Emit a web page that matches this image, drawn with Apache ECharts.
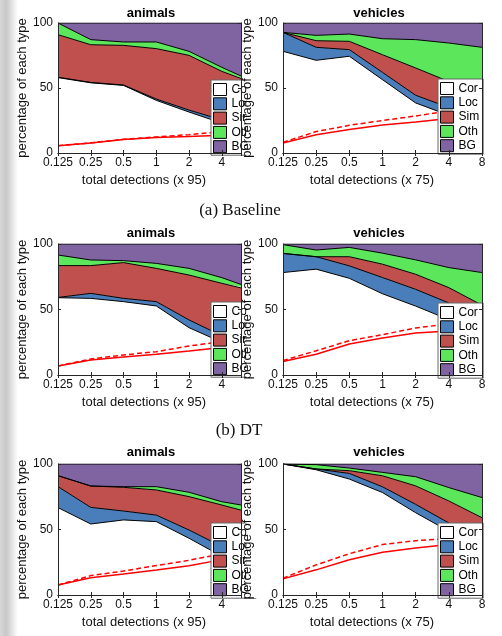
<!DOCTYPE html>
<html><head><meta charset="utf-8">
<script src="https://cdn.jsdelivr.net/npm/echarts@6/dist/echarts.min.js"></script>
<style>html,body{margin:0;padding:0;background:#fff;}#c{width:502px;height:636px;}</style>
</head><body><div id="c"></div>
<script>
// ---------- data ----------
const detections = [0.125, 0.25, 0.5, 1, 2, 4, 8];
const types = ['Cor', 'Loc', 'Sim', 'Oth', 'BG'];
const panelTitles = ['animals', 'vehicles'];
const xAxisNames = ['total detections (x 95)', 'total detections (x 75)'];
const yAxisName = 'percentage of each type';
const captions = ['(a) Baseline', '(b) DT'];

// (a) Baseline - animals
const baseAnimalsCor = [58, 54, 52, 40.5, 31.5, 23, 15];
const baseAnimalsLoc = [0.3, 0.3, 0.3, 1, 1.5, 2.5, 3];
const baseAnimalsSim = [32.7, 29, 30.5, 38.8, 42.1, 37.3, 35.5];
const baseAnimalsOth = [9, 3.9, 2.6, 5.1, 3.1, 3.1, 1];
const baseAnimalsBG  = [0, 12.8, 14.6, 14.6, 21.8, 34.1, 45.5];
const baseAnimalsRecall     = [5.6, 7.7, 10.3, 12, 12.6, 13.6, 14.5];
const baseAnimalsRecallDash = [5.6, 7.8, 10.5, 12.4, 14.1, 16.5, 18.5];

// (a) Baseline - vehicles
const baseVehiclesCor = [78.2, 71.3, 74.4, 56.4, 38.5, 29, 19.2];
const baseVehiclesLoc = [14.6, 10, 5.1, 5.6, 5.9, 6, 8.8];
const baseVehiclesSim = [0, 5.1, 6.4, 13.6, 21, 20, 21.2];
const baseVehiclesOth = [0, 4.1, 5.6, 12.3, 21.8, 29.6, 32.1];
const baseVehiclesBG  = [7.2, 9.5, 8.5, 12.1, 12.8, 15.4, 18.7];
const baseVehiclesRecall     = [7.7, 14, 18, 21.5, 23.8, 26.5, 29.5];
const baseVehiclesRecallDash = [8.2, 16.5, 21.3, 25, 28.5, 32.5, 36.5];

// (b) DT - animals
const dtAnimalsCor = [59, 58.5, 56, 52.7, 36.1, 25, 18];
const dtAnimalsLoc = [0.2, 3.8, 2.5, 3.3, 5.9, 5, 6];
const dtAnimalsSim = [24.3, 21.2, 27.3, 25.4, 34.3, 40, 40];
const dtAnimalsOth = [8.1, 4.3, 1.5, 3.8, 5.1, 4.3, 1.5];
const dtAnimalsBG  = [8.4, 12.2, 12.7, 14.8, 18.6, 25.7, 34.5];
const dtAnimalsRecall     = [6.9, 11.5, 13.8, 15.8, 18.3, 21, 23];
const dtAnimalsRecallDash = [6.9, 12.2, 15.3, 17.8, 22.1, 25.5, 28];

// (b) DT - vehicles
const dtVehiclesCor = [78.2, 80.8, 73.8, 62, 52.6, 42.3, 25.6];
const dtVehiclesLoc = [14.6, 9.5, 9.5, 12.4, 12.8, 12.7, 9.9];
const dtVehiclesSim = [0, 0, 7, 10.2, 11.5, 11.7, 17.8];
const dtVehiclesOth = [6.7, 5.1, 7.1, 8.4, 11, 15.3, 24.9];
const dtVehiclesBG  = [0.5, 4.6, 2.6, 7, 12.1, 18, 21.8];
const dtVehiclesRecall     = [10.3, 15.9, 23.6, 28.2, 32, 33.5, 34.5];
const dtVehiclesRecallDash = [11, 18.5, 26.2, 30.8, 35.9, 39, 41];

// (c) - animals
const cAnimalsCor = [66.7, 54.2, 57.3, 56, 43.3, 29.5, 20];
const cAnimalsLoc = [16, 12.7, 6.8, 5, 6.3, 7.5, 7];
const cAnimalsSim = [8.4, 16.3, 18.1, 19.2, 25.5, 31.7, 35];
const cAnimalsOth = [0, 0, 0.5, 2.5, 3.3, 2.5, 5];
const cAnimalsBG  = [8.9, 16.8, 17.3, 17.3, 21.6, 28.8, 33];
const cAnimalsRecall     = [7.6, 13.2, 16, 19.1, 22.4, 27, 31];
const cAnimalsRecallDash = [7.6, 14.8, 18.3, 22.5, 26.5, 31.5, 36];

// (c) - vehicles
const cVehiclesCor = [100, 95.6, 88.5, 78.2, 62.8, 48.7, 30.8];
const cVehiclesLoc = [0, 0.6, 4.3, 4.4, 6.4, 6.3, 9.2];
const cVehiclesSim = [0, 0, 2.1, 8.4, 14.1, 16.8, 19];
const cVehiclesOth = [0, 3.3, 2, 2.6, 7, 10.2, 15.4];
const cVehiclesBG  = [0, 0.5, 3.1, 6.4, 9.7, 18, 25.6];
const cVehiclesRecall     = [12.3, 19.2, 26.9, 32.6, 35.9, 38.5, 40];
const cVehiclesRecallDash = [12.8, 23, 31.5, 38.5, 41.5, 43, 44];

// ---------- layout / style ----------
const panels = [
  [baseAnimalsCor, baseAnimalsLoc, baseAnimalsSim, baseAnimalsOth, baseAnimalsBG, baseAnimalsRecall, baseAnimalsRecallDash],
  [baseVehiclesCor, baseVehiclesLoc, baseVehiclesSim, baseVehiclesOth, baseVehiclesBG, baseVehiclesRecall, baseVehiclesRecallDash],
  [dtAnimalsCor, dtAnimalsLoc, dtAnimalsSim, dtAnimalsOth, dtAnimalsBG, dtAnimalsRecall, dtAnimalsRecallDash],
  [dtVehiclesCor, dtVehiclesLoc, dtVehiclesSim, dtVehiclesOth, dtVehiclesBG, dtVehiclesRecall, dtVehiclesRecallDash],
  [cAnimalsCor, cAnimalsLoc, cAnimalsSim, cAnimalsOth, cAnimalsBG, cAnimalsRecall, cAnimalsRecallDash],
  [cVehiclesCor, cVehiclesLoc, cVehiclesSim, cVehiclesOth, cVehiclesBG, cVehiclesRecall, cVehiclesRecallDash]
];
const fills = ['#ffffff', '#4a7ebb', '#c0504d', '#5ce65c', '#8064a2'];
const FONT = '"Liberation Sans", Arial, Helvetica, sans-serif';
const AX = '#262626';
const rowTop = [23, 244, 464];
const rowH = [130, 131, 131];
const colLeft = [58, 283];
const colW = [183, 199];
const colMax = [6, 8];
const titleX = [151, 379];
const titleY = [13, 233, 452];
const legendPos = [[[211, 80], [438, 79]], [[211, 302], [438, 303]], [[211, 523], [438, 523]]];
const xNamePad = [[0, 11, 0, 0], [0, 21, 0, 0]];

const fmt = v => String(Math.round(v * 1000) / 1000);

const grid = [], xAxis = [], yAxis = [], series = [], legend = [], graphic = [];

graphic.push({
  type: 'rect', silent: true, z: -10,
  shape: { x: 0, y: 0, width: 18, height: 636 },
  style: { fill: { type: 'linear', x: 0, y: 0, x2: 1, y2: 0,
    colorStops: [{ offset: 0, color: '#d6d6d6' }, { offset: 0.35, color: '#c8c8c8' }, { offset: 1, color: '#ffffff' }] } }
});

panels.forEach((p, i) => {
  const r = Math.floor(i / 2), c = i % 2;
  grid.push({ left: colLeft[c], top: rowTop[r], width: colW[c], height: rowH[r], show: false, containLabel: false, outerBoundsMode: 'none' });
  const xBase = {
    gridIndex: i, type: 'log', logBase: 2, min: 0.125, max: colMax[c],
    axisLine: { show: true, lineStyle: { color: AX, width: 1 } },
    axisTick: { show: true, inside: true, length: 3, lineStyle: { color: AX } },
    splitLine: { show: false }, minorTick: { show: false }, z: 10
  };
  xAxis.push(Object.assign({}, xBase, {
    position: 'bottom',
    axisLabel: { show: true, formatter: fmt, fontSize: 12, fontFamily: FONT, color: '#111', margin: 4, showMaxLabel: c === 1, showMinLabel: true },
    name: xAxisNames[c], nameLocation: 'middle', nameGap: 21,
    nameTextStyle: { fontSize: 13, fontFamily: FONT, color: '#111', padding: xNamePad[c] }
  }));
  xAxis.push(Object.assign({}, xBase, { position: 'top', axisLabel: { show: false } }));
  const yBase = {
    gridIndex: i, type: 'value', min: 0, max: 100, interval: 50,
    axisLine: { show: true, lineStyle: { color: AX, width: 1 } },
    axisTick: { show: true, inside: true, length: 3, lineStyle: { color: AX } },
    splitLine: { show: false }
  };
  yAxis.push(Object.assign({}, yBase, {
    position: 'left', z: c === 1 ? 30 : 10,
    axisLabel: { show: true, fontSize: 12, fontFamily: FONT, color: '#111', margin: 5 },
    name: yAxisName, nameLocation: 'middle', nameGap: 29,
    nameTextStyle: { fontSize: 13, fontFamily: FONT, color: '#111' }
  }));
  yAxis.push(Object.assign({}, yBase, { position: 'right', z: 10, axisLabel: { show: false } }));

  types.forEach((t, k) => {
    // value column first so that the stack is applied to the percentage (y) dimension
    series.push({
      name: t, type: 'line', stack: 'p' + i, xAxisIndex: 2 * i, yAxisIndex: 2 * i,
      dimensions: ['percent', 'detections'],
      encode: { x: 'detections', y: 'percent' },
      symbol: 'none', showSymbol: false, z: 2, silent: true,
      data: detections.map((d, j) => [p[k][j], d]),
      lineStyle: { color: '#000', width: 1 },
      itemStyle: { color: fills[k] },
      areaStyle: { color: fills[k], opacity: 1 }
    });
  });
  series.push({
    name: 'recall', type: 'line', xAxisIndex: 2 * i, yAxisIndex: 2 * i,
    symbol: 'none', z: 3, silent: true,
    data: detections.map((d, j) => [d, p[5][j]]),
    lineStyle: { color: '#ff0000', width: 1.5 }
  });
  series.push({
    name: 'recall (dashed)', type: 'line', xAxisIndex: 2 * i, yAxisIndex: 2 * i,
    symbol: 'none', z: 3, silent: true,
    data: detections.map((d, j) => [d, p[6][j]]),
    lineStyle: { color: '#ff0000', width: 1.5, type: [5, 3] }
  });

  legend.push({
    orient: 'vertical', left: legendPos[r][c][0], top: legendPos[r][c][1],
    itemWidth: 13, itemHeight: 12, itemGap: 1.3, padding: [3, 4, 2, 2],
    backgroundColor: '#fff', borderColor: '#666', borderWidth: 1, borderRadius: 0,
    selectedMode: false, z: 4,
    textStyle: { fontSize: 12, fontFamily: FONT, color: '#000', lineHeight: 12 },
    data: types.map((t, k) => ({ name: t, icon: 'rect', itemStyle: { color: fills[k], borderColor: '#000', borderWidth: 1 } }))
  });

  graphic.push({
    type: 'text', x: titleX[c], y: titleY[r], z: 50, silent: true,
    style: { text: panelTitles[c], font: 'bold 13px ' + FONT, fill: '#000',
      textAlign: 'center', align: 'center', textVerticalAlign: 'middle', verticalAlign: 'middle' }
  });
  if (c === 0) {
    // the right-hand figure overlaps the clipped legend of the left one
    graphic.push({
      type: 'rect', z: 20, silent: true,
      shape: { x: 246.5, y: rowTop[r] - 3, width: 16, height: rowH[r] + 6 },
      style: { fill: '#ffffff' }
    });
  }
});

[[240, 211], [239, 431]].forEach((pos, k) => {
  graphic.push({
    type: 'text', x: pos[0], y: pos[1], z: 50, silent: true,
    style: { text: captions[k], font: '17px "Liberation Serif", "Times New Roman", serif', fill: '#111',
      textAlign: 'center', align: 'center', textVerticalAlign: 'middle', verticalAlign: 'middle' }
  });
});

const chart = echarts.init(document.getElementById('c'), null, { renderer: 'canvas' });
chart.setOption({
  animation: false,
  backgroundColor: '#fff',
  grid, xAxis, yAxis, series, legend, graphic,
  tooltip: { show: false }
});
</script>
</body></html>
